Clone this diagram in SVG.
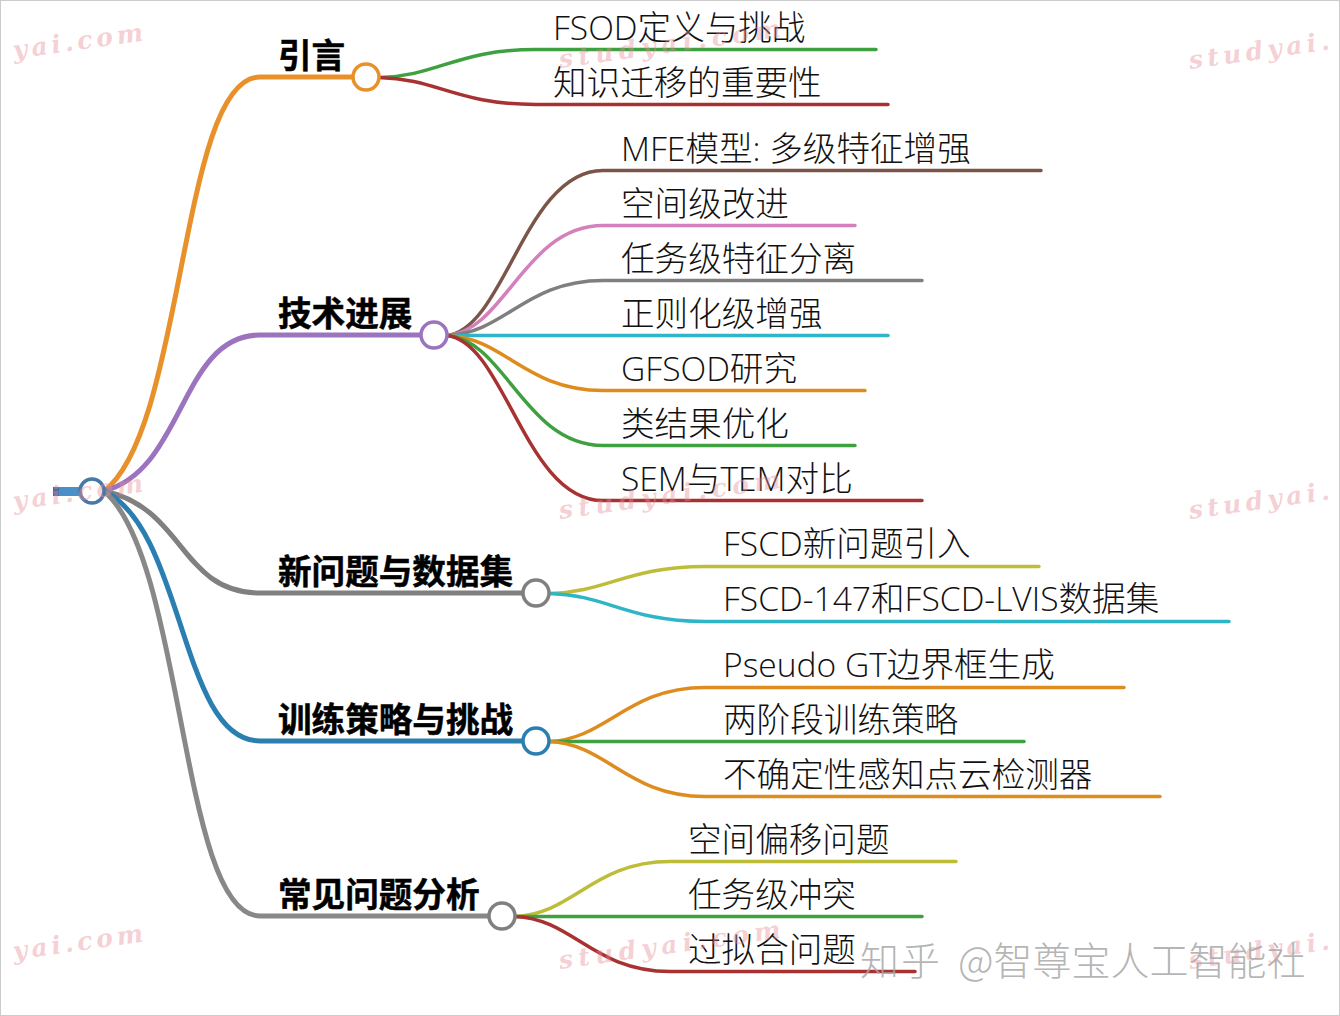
<svg xmlns="http://www.w3.org/2000/svg" width="1340" height="1016" viewBox="0 0 1340 1016">
<style>
.l{fill:none;stroke-linecap:round}
.m{stroke-width:5}
.c{stroke-width:3.5}
.n{fill:#fff;stroke-width:3.5}
.t{font-family:"Open Sans","Noto Sans CJK SC",sans-serif;font-weight:200;font-size:33.6px;fill:#111}
.b{font-family:"Noto Sans CJK SC",sans-serif;font-weight:700;font-size:33.6px;fill:#000;stroke:#000;stroke-width:.5}
.w{font-family:"DejaVu Serif",serif;font-style:italic;font-weight:700;font-size:25px;letter-spacing:5.500px;fill:#e88c96;fill-opacity:.42}
.e{letter-spacing:4px}
.r{letter-spacing:4.500px}
.z{font-family:"Noto Sans CJK SC",sans-serif;font-size:39px;font-weight:300;fill:#a8a8a8;fill-opacity:.85}
</style>
<rect x="0.5" y="0.5" width="1339" height="1015" fill="#fff" stroke="#ccc"/>
<g id="connectors">
<path fill="none" stroke="#4a90c8" stroke-width="9" d="M53 491.500H80"/>
<path fill="none" stroke="#3a6ea5" stroke-width="9" d="M53 491.500H59"/>
<path class="l m" stroke="#E8912A" d="M104 491C185 430 180 77 260 77H353"/>
<path class="l m" stroke="#9B73BE" d="M104 491C185 470 180 335 260 335H421"/>
<path class="l m" stroke="#808080" d="M104 491C185 508 180 593 260 593H523"/>
<path class="l m" stroke="#2A7FB0" d="M104 491C185 530 180 741 260 741H523"/>
<path class="l m" stroke="#888888" d="M104 491C185 560 180 916 260 916H489"/>
<path class="l c" stroke="#3FA040" d="M379 77.500C437 76.400 457 49.500 535 49.500H876"/>
<path class="l c" stroke="#A83232" d="M379 77.500C437 78.600 457 104.500 535 104.500H888"/>
<path class="l c" stroke="#7B5548" d="M447 335.500C505 328.900 525 170.500 603 170.500H1041"/>
<path class="l c" stroke="#D480BC" d="M447 335.500C505 331.100 525 225.500 603 225.500H855"/>
<path class="l c" stroke="#7F7F7F" d="M447 335.500C505 333.300 525 280.500 603 280.500H922"/>
<path class="l c" stroke="#2FB5C8" d="M447 335.500H888"/>
<path class="l c" stroke="#DE8C1E" d="M447 335.500C505 337.700 525 390.500 603 390.500H865"/>
<path class="l c" stroke="#3FA040" d="M447 335.500C505 339.900 525 445.500 603 445.500H855"/>
<path class="l c" stroke="#A83232" d="M447 335.500C505 342.100 525 500.500 603 500.500H922"/>
<path class="l c" stroke="#BDBD3A" d="M549 593.500C607 592.400 627 566.500 705 566.500H1039"/>
<path class="l c" stroke="#2FB5C8" d="M549 593.500C607 594.600 627 621.500 705 621.500H1229"/>
<path class="l c" stroke="#DE8C1E" d="M549 741.500C607 739.300 627 687.500 705 687.500H1124"/>
<path class="l c" stroke="#3FA040" d="M549 741.500H1024"/>
<path class="l c" stroke="#DE8C1E" d="M549 741.500C607 743.700 627 796.500 705 796.500H1160"/>
<path class="l c" stroke="#BDBD3A" d="M515 916.500C573 914.300 593 861.500 670 861.500H956"/>
<path class="l c" stroke="#3FA040" d="M515 916.500H922"/>
<path class="l c" stroke="#A83232" d="M515 916.500C573 918.700 593 971.500 670 971.500H915"/>
</g>
<g id="root"><circle class="n" cx="92" cy="491" r="12" stroke="#4678A8"/></g>
<g id="n1"><circle class="n" cx="366" cy="77" r="13" stroke="#E8912A"/><text class="b" x="278" y="68">引言</text></g>
<g id="n1a"><text class="t" x="553" y="39.500">FSOD定义与挑战</text></g>
<g id="n1b"><text class="t" x="553" y="94.500">知识迁移的重要性</text></g>
<g id="n2"><circle class="n" cx="434" cy="335" r="13" stroke="#9B73BE"/><text class="b" x="278" y="326">技术进展</text></g>
<g id="n2a"><text class="t" x="621" y="160.500">MFE模型: 多级特征增强</text></g>
<g id="n2b"><text class="t" x="621" y="215.500">空间级改进</text></g>
<g id="n2c"><text class="t" x="621" y="270.500">任务级特征分离</text></g>
<g id="n2d"><text class="t" x="621" y="325.500">正则化级增强</text></g>
<g id="n2e"><text class="t" x="621" y="380.500">GFSOD研究</text></g>
<g id="n2f"><text class="t" x="621" y="435.500">类结果优化</text></g>
<g id="n2g"><text class="t" x="621" y="490.500">SEM与TEM对比</text></g>
<g id="n3"><circle class="n" cx="536" cy="593" r="13" stroke="#808080"/><text class="b" x="278" y="584">新问题与数据集</text></g>
<g id="n3a"><text class="t" x="723" y="555.500">FSCD新问题引入</text></g>
<g id="n3b"><text class="t" x="723" y="610.500">FSCD-147和FSCD-LVIS数据集</text></g>
<g id="n4"><circle class="n" cx="536" cy="741" r="13" stroke="#2A7FB0"/><text class="b" x="278" y="732">训练策略与挑战</text></g>
<g id="n4a"><text class="t" x="723" y="676.500">Pseudo GT边界框生成</text></g>
<g id="n4b"><text class="t" x="723" y="731.500">两阶段训练策略</text></g>
<g id="n4c"><text class="t" x="723" y="786.500">不确定性感知点云检测器</text></g>
<g id="n5"><circle class="n" cx="502" cy="916" r="13" stroke="#808080"/><text class="b" x="278" y="907">常见问题分析</text></g>
<g id="n5a"><text class="t" x="688" y="852">空间偏移问题</text></g>
<g id="n5b"><text class="t" x="688" y="907">任务级冲突</text></g>
<g id="n5c"><text class="t" x="688" y="962">过拟合问题</text></g>
<g id="watermarks">
<text class="w e" text-anchor="end" transform="translate(148 40) rotate(-8)">yai.com</text>
<text class="w" transform="translate(560 68) rotate(-8)">studyai.com</text>
<text class="w r" transform="translate(1190 69) rotate(-8)">studyai.</text>
<text class="w e" text-anchor="end" transform="translate(148 491) rotate(-8)">yai.com</text>
<text class="w" transform="translate(560 519) rotate(-8)">studyai.com</text>
<text class="w r" transform="translate(1190 519) rotate(-8)">studyai.</text>
<text class="w e" text-anchor="end" transform="translate(148 941) rotate(-8)">yai.com</text>
<text class="w" transform="translate(560 969) rotate(-8)">studyai.com</text>
<text class="w r" transform="translate(1190 969) rotate(-8)">studyai.</text>
</g>
<text class="z" y="975"><tspan x="860" letter-spacing="2">知乎</tspan> <tspan x="958">@智尊宝人工智能社</tspan></text>
</svg>
